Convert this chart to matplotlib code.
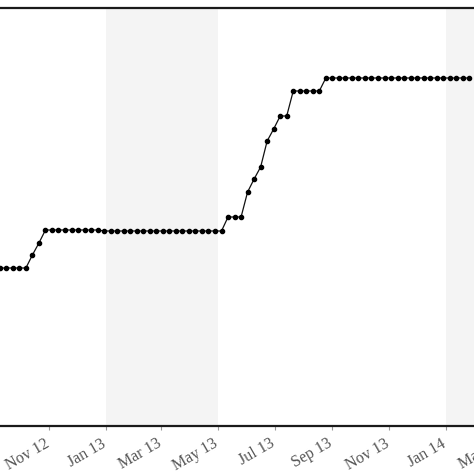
import matplotlib
matplotlib.use("Agg")
import matplotlib.pyplot as plt
import matplotlib.dates as mdates
import matplotlib.transforms as mtransforms
import numpy as np
import datetime as dt

# ---- data (weekly observations, arbitrary units) ----
start_date = dt.date(2012, 9, 9)
values = [
    158, 158, 158, 158, 158,            # flat
    171, 183,                           # rise
    196, 196, 196, 196, 196, 196, 196, 196, 196,
    195, 195, 195, 195, 195, 195, 195, 195, 195, 195,
    195, 195, 195, 195, 195, 195, 195, 195, 195,
    209, 209, 209,
    234, 247, 259, 285, 297, 310, 310,
    335, 335, 335, 335, 335,
    348, 348, 348, 348, 348, 348, 348, 348, 348, 348,
    348, 348, 348, 348, 348, 348, 348, 348, 348, 348,
    348, 348, 348,
]
dates = [start_date + dt.timedelta(weeks=i) for i in range(len(values))]

shade_periods = [
    (dt.date(2013, 1, 1), dt.date(2013, 5, 1)),
    (dt.date(2014, 1, 1), dt.date(2014, 5, 1)),
]

# ---- figure ----
DPI = 100
fig = plt.figure(figsize=(4.74, 4.74), dpi=DPI)
W = 474.0
# axes extends beyond figure horizontally (reference is a crop)
ax_left_px, ax_right_px = -47.4, 521.4
ax_bottom_px, ax_top_px = 426.0, 8.0   # from top
ax = fig.add_axes([ax_left_px / W, (W - ax_bottom_px) / W,
                   (ax_right_px - ax_left_px) / W, (ax_bottom_px - ax_top_px) / W])

ref = mdates.date2num(dt.date(2013, 1, 1))
ppd = (446.0 - 106.0) / 365.0
ax.set_xlim(ref + (ax_left_px - 106.0) / ppd, ref + (ax_right_px - 106.0) / ppd)
ax.set_ylim(0, 418)

for a, b in shade_periods:
    ax.axvspan(mdates.date2num(a), mdates.date2num(b), color="#f4f4f4", lw=0, zorder=0)

ax.plot(mdates.date2num(dates), values, color="#111111", lw=0.9,
        marker="o", ms=3.0, mfc="black", mec="black", zorder=3)

for s in ["left", "right"]:
    ax.spines[s].set_visible(False)
for s in ["top", "bottom"]:
    ax.spines[s].set_linewidth(1.6)
    ax.spines[s].set_color("#1a1a1a")

ax.set_yticks([])
ax.xaxis.set_major_locator(mdates.MonthLocator(bymonth=[1, 3, 5, 7, 9, 11]))
ax.xaxis.set_major_formatter(mdates.DateFormatter("%b %y"))
ax.tick_params(axis="x", direction="out", length=3, width=0.8, color="#999999",
               labelcolor="#555555", labelsize=11.5, pad=4)
offset = mtransforms.ScaledTranslation(3 / DPI, 0, fig.dpi_scale_trans)
for lab in ax.get_xticklabels():
    lab.set_rotation(30)
    lab.set_ha("right")
    lab.set_family("Liberation Serif")
    lab.set_transform(lab.get_transform() + offset)

fig.savefig("out.png", dpi=DPI)
